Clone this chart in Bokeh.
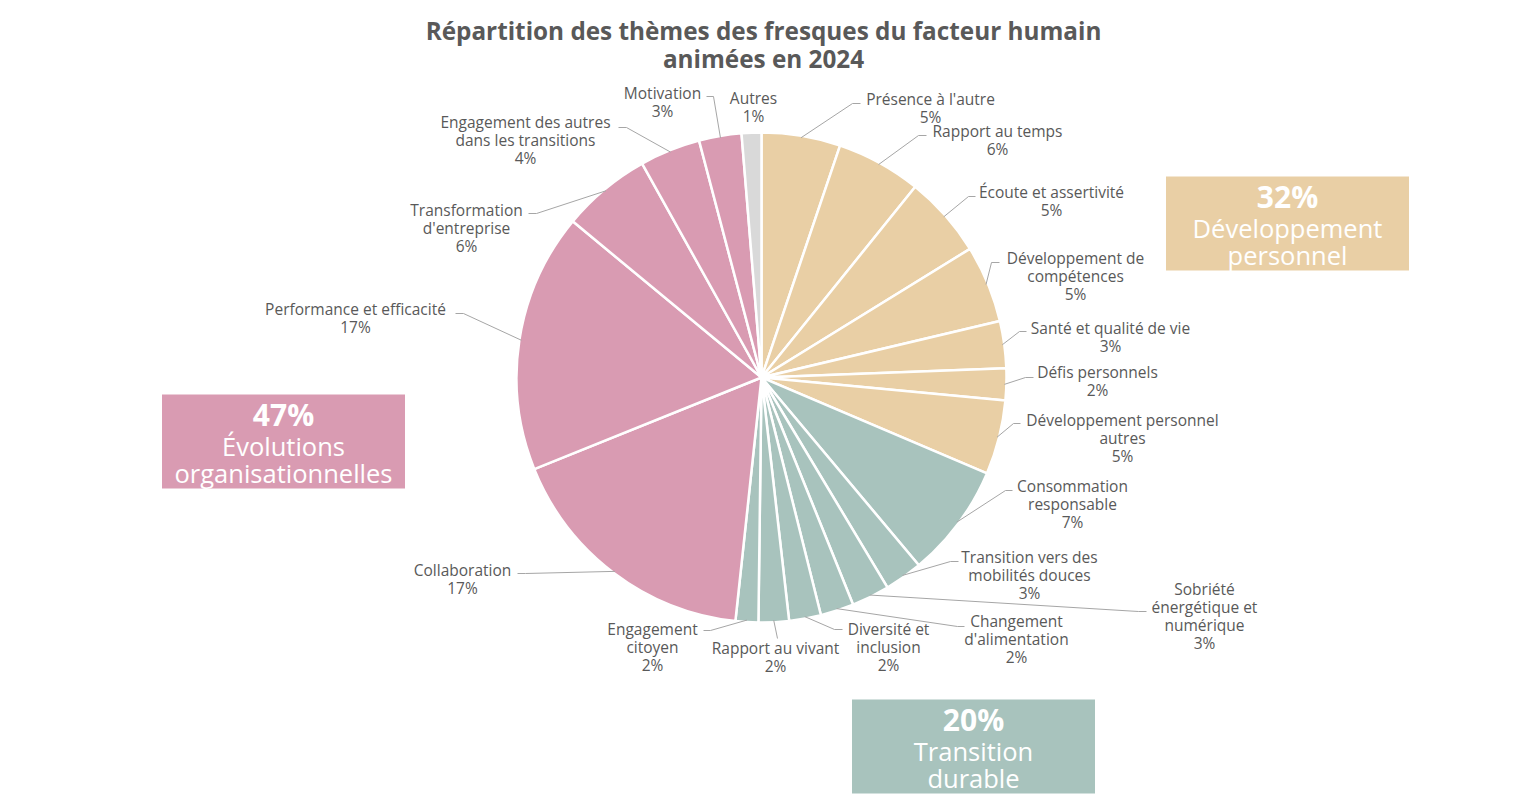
import math
from bokeh.plotting import figure
from bokeh.models import Range1d
from bokeh.embed import file_html
from bokeh.resources import INLINE
from bokeh.core.properties import value

# ---------------- data ----------------
categories = [
    "Présence à l'autre", "Rapport au temps", "Écoute et assertivité",
    "Développement de\ncompétences", "Santé et qualité de vie", "Défis personnels",
    "Développement personnel\nautres",
    "Consommation\nresponsable", "Transition vers des\nmobilités douces",
    "Sobriété\nénergétique et\nnumérique", "Changement\nd'alimentation",
    "Diversité et\ninclusion", "Rapport au vivant", "Engagement\ncitoyen",
    "Collaboration", "Performance et efficacité", "Transformation\nd'entreprise",
    "Engagement des autres\ndans les transitions", "Motivation",
    "Autres",
]
shares = [5.2, 5.6, 5.4, 5.1, 3.1, 2.1, 4.9,
          7.5, 2.5, 2.5, 2.2, 2.1, 2.0, 1.5,
          17.2, 17.1, 5.9, 4.0, 2.8,
          1.3]
pct_labels = [5, 6, 5, 5, 3, 2, 5,
              7, 3, 3, 2, 2, 2, 2,
              17, 17, 6, 4, 3,
              1]
slice_group = ["perso"] * 7 + ["durable"] * 7 + ["orga"] * 5 + ["autres"]

group_keys = ["perso", "orga", "durable"]
group_titles = ["Développement\npersonnel", "Évolutions\norganisationnelles", "Transition\ndurable"]
group_pcts = [32, 47, 20]

# ---------------- style / layout ----------------
W, H = 1536, 806
colors = {"perso": "#E9CFA5", "durable": "#A8C3BD", "orga": "#D99BB2", "autres": "#D9D9D9"}
TXT = "#595959"
LEAD = "#A6A6A6"
FONT = "Open Sans"
CX, CY, R = 761, 377, 245
LINE_H = 18

# label block: centre x, first line y (screen px)
label_pos = [
    (930, 98), (997, 130), (1051, 191), (1075, 257), (1110, 327), (1097, 371), (1122, 419),
    (1072, 485), (1029, 556), (1204, 588), (1016, 620), (888, 628), (775, 647), (652, 628),
    (462, 569), (355, 308), (466, 209), (525, 121), (662, 92), (753, 97),
]
# leader: elbow point and end of short horizontal segment (screen px)
leaders = [
    ((852, 103), (860, 103)), ((918, 135), (926, 135)), ((968, 196), (975, 196)),
    ((991, 262), (999, 262)), ((1019, 331), (1026, 331)), ((1025, 377), (1033, 377)),
    ((1013, 423), (1020, 423)),
    ((1005, 490), (1012, 490)), ((950, 561), (958, 561)), ((1138, 611), (1146, 611)),
    ((957, 626), (964, 626)), ((834, 629), (842, 629)), ((777, 638), (777, 638)),
    ((710, 630), (703, 630)),
    ((525, 573), (517, 573)), ((463, 313), (455, 313)), ((536, 213), (528, 213)),
    ((626, 127), (618, 127)), ((713, 96), (706, 96)), None,
]
box_pos = {"perso": (1287, 223), "orga": (283, 441), "durable": (973, 746)}
BOX_W, BOX_H = 243, 94


def Y(y):
    return H - y


p = figure(width=W, height=H, x_range=Range1d(0, W), y_range=Range1d(0, H),
           output_backend="svg", toolbar_location=None,
           x_axis_location=None, y_axis_location=None, min_border=0)
p.outline_line_color = None
p.xgrid.visible = False
p.ygrid.visible = False
p.background_fill_color = "white"
p.border_fill_color = "white"

# ---------------- pie ----------------
total = sum(shares)
starts, ends, mids = [], [], []
acc = 0.0
for s in shares:
    a0 = acc / total * 2 * math.pi
    acc += s
    a1 = acc / total * 2 * math.pi
    starts.append(math.pi / 2 - a0)
    ends.append(math.pi / 2 - a1)
    mids.append((a0 + a1) / 2)

p.wedge(x=[CX] * len(shares), y=[Y(CY)] * len(shares), radius=R,
        start_angle=starts, end_angle=ends, direction="clock",
        fill_color=[colors[g] for g in slice_group], line_color="white", line_width=2.5)

# ---------------- leaders ----------------
xs, ys = [], []
for m, ld in zip(mids, leaders):
    if ld is None:
        continue
    sx = CX + (R - 2) * math.sin(m)
    sy = CY - (R - 2) * math.cos(m)
    (ex, ey), (hx, hy) = ld
    xs.append([sx, ex, hx])
    ys.append([Y(sy), Y(ey), Y(hy)])
p.multi_line(xs=xs, ys=ys, line_color=LEAD, line_width=1)

# ---------------- labels ----------------
tx, ty, tt = [], [], []
for name, pc, (lx, ly) in zip(categories, pct_labels, label_pos):
    lines = name.split("\n") + [f"{pc}%"]
    for i, ln in enumerate(lines):
        tx.append(lx)
        ty.append(Y(ly + i * LINE_H))
        tt.append(ln)
p.text(x=tx, y=ty, text=tt, text_align="center", text_baseline="middle",
       text_font=value(FONT), text_font_size="15.5px", text_color=TXT)

# ---------------- group boxes ----------------
for key, title, pc in zip(group_keys, group_titles, group_pcts):
    bx, by = box_pos[key]
    p.rect(x=[bx], y=[Y(by)], width=BOX_W, height=BOX_H, fill_color=colors[key],
           line_color=None)
    p.text(x=[bx], y=[Y(by - 27)], text=[f"{pc}%"], text_align="center",
           text_baseline="middle", text_font=value(FONT), text_font_style="bold",
           text_font_size="30px", text_color="white")
    for i, ln in enumerate(title.split("\n")):
        p.text(x=[bx], y=[Y(by + 4 + i * 27)], text=[ln], text_align="center",
               text_baseline="middle", text_font=value(FONT),
               text_font_size="25.5px", text_color="white")

# ---------------- title ----------------
title_lines = ["Répartition des thèmes des fresques du facteur humain", "animées en 2024"]
for i, ln in enumerate(title_lines):
    p.text(x=[763], y=[Y(30 + i * 28)], text=[ln], text_align="center",
           text_baseline="middle", text_font=value(FONT), text_font_style="bold",
           text_font_size="24.3px", text_color=TXT)

open("out.html", "w").write(file_html(p, INLINE))
